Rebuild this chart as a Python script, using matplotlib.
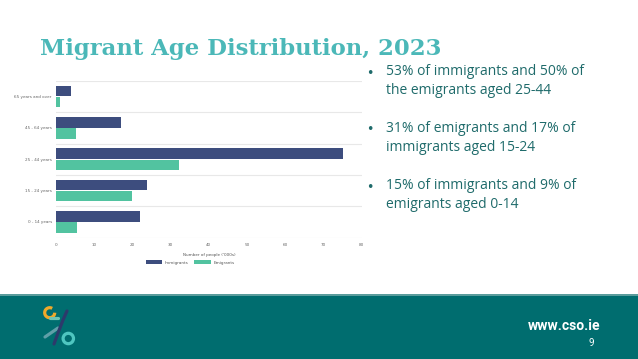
import matplotlib
matplotlib.use("Agg")
import matplotlib.pyplot as plt
import numpy as np
from matplotlib.patches import Rectangle, Arc, Circle

categories = ["0 - 14 years", "15 - 24 years", "25 - 44 years", "45 - 64 years", "65 years and over"]
immigrants = [21.9, 23.8, 75.2, 16.9, 4.0]
emigrants = [5.6, 19.9, 32.3, 5.3, 1.0]
series_names = ["Immigrants", "Emigrants"]
xticks = [0, 10, 20, 30, 40, 50, 60, 70, 80]
title = "Migrant Age Distribution, 2023"
bullets = [
    "53% of immigrants and 50% of\nthe emigrants aged 25-44",
    "31% of emigrants and 17% of\nimmigrants aged 15-24",
    "15% of immigrants and 9% of\nemigrants aged 0-14",
]

W, H = 638, 359
fig = plt.figure(figsize=(W / 100, H / 100), dpi=100)
fig.patch.set_facecolor("white")

def fx(px):
    return px / W

def fy(py):
    return 1 - py / H

navy = "#3d4d7e"
green = "#52c3a0"
small = 3.0

ax = fig.add_axes([fx(56), fy(237.5), fx(361.7) - fx(56), fy(81) - fy(237.5)])
y = np.arange(len(categories))
h = 0.335
ax.barh(y + 0.178, immigrants, height=h, color=navy, label=series_names[0])
ax.barh(y - 0.178, emigrants, height=h, color=green, label=series_names[1])
ax.set_xlim(0, 80)
ax.set_ylim(-0.5, len(categories) - 0.5)
ax.set_xticks(xticks)
ax.set_xticklabels([str(t) for t in xticks])
ax.set_yticks(y)
ax.set_yticklabels(categories)
ax.set_yticks(np.arange(-0.5, len(categories), 1.0), minor=True)
ax.grid(which="minor", axis="y", color="#e8e8e8", linewidth=0.8)
ax.grid(which="major", visible=False)
ax.set_axisbelow(True)
for s in ax.spines.values():
    s.set_visible(False)
ax.tick_params(axis="both", which="both", length=0, labelsize=small, colors="#666666")
ax.tick_params(axis="x", pad=4)
ax.tick_params(axis="y", pad=3)
ax.set_xlabel("Number of people ('000s)", fontsize=small, color="#555555", labelpad=4)

leg = fig.legend(loc="center", bbox_to_anchor=(fx(190), fy(262.5)), ncol=2, frameon=False,
                 fontsize=small, handlelength=4.0, handleheight=1.1, columnspacing=1.5,
                 handletextpad=0.5)
for t in leg.get_texts():
    t.set_color("#555555")

# Title
tt = fig.text(fx(40), fy(55), title, fontsize=20, fontweight="heavy",
              family="DejaVu Serif", color="#4bb8b8", ha="left", va="baseline")
fig.canvas.draw()
bb = tt.get_window_extent()
tt.set_fontsize(20 * (402 / bb.width))

# Bullets
bullet_y = [73, 130, 187]
for by, txt in zip(bullet_y, bullets):
    fig.text(fx(370), fy(by), "•", fontsize=9, color="#1f6b6b", ha="center", va="center",
             family="DejaVu Sans")
    fig.text(fx(386), fy(by - 9), txt, fontsize=10.0, color="#1f6b6b", ha="left", va="top",
             family="Open Sans", linespacing=1.35)

# Footer
fig.patches.append(Rectangle((0, 0), 1, fy(296), transform=fig.transFigure,
                             facecolor="#006d6f", edgecolor="none", zorder=0))
fig.patches.append(Rectangle((0, fy(296)), 1, fy(294) - fy(296), transform=fig.transFigure,
                             facecolor="#5a9c9c", edgecolor="none", zorder=0))
fig.text(fx(600), fy(326), "www.cso.ie", fontsize=10, fontweight="bold", color="white",
         ha="right", va="center", family="Roboto")
fig.text(fx(594), fy(343), "9", fontsize=7, color="white", ha="right", va="center",
         family="Roboto")

# Logo (approximation)
lax = fig.add_axes([fx(30), fy(352), fx(80) - fx(30), fy(300) - fy(352)], zorder=5)
lax.set_xlim(30, 80)
lax.set_ylim(352, 300)
lax.axis("off")
lax.patch.set_alpha(0)
lw = 2.3
lax.plot([45, 58], [337, 328], color="#5f9fa8", lw=lw, solid_capstyle="round")
lax.plot([67, 63, 58, 54], [311, 320, 333, 344], color="#2d3a6b", lw=lw, solid_capstyle="round")
lax.add_patch(Arc((49.7, 312.7), 10, 10, theta1=0, theta2=300, color="#f0a92a", lw=lw))
lax.plot([50, 58], [318, 318], color="#6cc5b5", lw=lw, solid_capstyle="round")
lax.add_patch(Circle((68.3, 338.5), 5.2, fill=False, edgecolor="#4fc6c0", lw=lw))

fig.savefig("out.png", dpi=100, facecolor="white")
